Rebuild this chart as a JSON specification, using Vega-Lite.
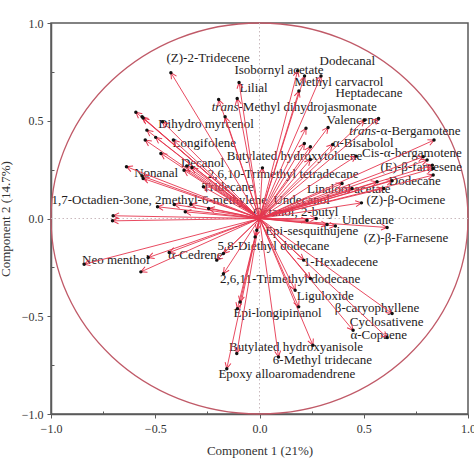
{
  "$schema": "https://vega.github.io/schema/vega-lite/v6.json",
  "width": 417,
  "height": 391,
  "autosize": "none",
  "padding": {"left": 51, "top": 23, "right": 6, "bottom": 60},
  "background": "white",
  "config": {
    "font": "Liberation Serif",
    "view": {"stroke": "#5a5a5a", "strokeWidth": 1.5},
    "axis": {
      "grid": false,
      "domainColor": "#5a5a5a",
      "domainWidth": 1.5,
      "tickColor": "#5a5a5a",
      "tickWidth": 1,
      "labelFont": "Liberation Serif",
      "labelFontSize": 12,
      "labelColor": "#333333",
      "labelFlush": false,
      "labelOverlap": false,
      "titleFont": "Liberation Serif",
      "titleFontSize": 13,
      "titleFontWeight": "normal",
      "titleColor": "#333333"
    }
  },
  "datasets": {
    "loadings": [
      {"x": -0.425, "y": 0.746}, {"x": -0.098, "y": 0.696}, {"x": -0.196, "y": 0.609}, {"x": -0.107, "y": 0.614},
      {"x": -0.165, "y": 0.52}, {"x": -0.593, "y": 0.544}, {"x": -0.563, "y": 0.52}, {"x": -0.558, "y": 0.514},
      {"x": -0.465, "y": 0.495}, {"x": -0.54, "y": 0.452}, {"x": -0.498, "y": 0.415}, {"x": -0.548, "y": 0.401},
      {"x": -0.413, "y": 0.401}, {"x": -0.473, "y": 0.333}, {"x": -0.349, "y": 0.268}, {"x": -0.324, "y": 0.261},
      {"x": -0.362, "y": 0.247}, {"x": -0.638, "y": 0.265}, {"x": -0.563, "y": 0.217}, {"x": -0.558, "y": 0.205},
      {"x": -0.269, "y": 0.162}, {"x": -0.489, "y": 0.06}, {"x": -0.409, "y": 0.072}, {"x": -0.356, "y": 0.034},
      {"x": -0.329, "y": 0.073}, {"x": -0.244, "y": 0.051}, {"x": -0.702, "y": 0.014}, {"x": -0.705, "y": -0.012},
      {"x": -0.841, "y": -0.234}, {"x": -0.569, "y": -0.273}, {"x": -0.534, "y": -0.2}, {"x": -0.433, "y": -0.174},
      {"x": -0.205, "y": -0.213}, {"x": -0.173, "y": -0.179}, {"x": -0.173, "y": -0.282}, {"x": -0.093, "y": -0.427},
      {"x": -0.106, "y": -0.461}, {"x": -0.109, "y": -0.691}, {"x": -0.157, "y": -0.768}, {"x": -0.021, "y": -0.094},
      {"x": -0.013, "y": -0.06},
      {"x": 0.091, "y": -0.708}, {"x": 0.256, "y": -0.648}, {"x": 0.188, "y": -0.452}, {"x": 0.171, "y": -0.367},
      {"x": 0.244, "y": -0.307}, {"x": 0.212, "y": -0.213}, {"x": 0.636, "y": -0.486}, {"x": 0.449, "y": -0.572},
      {"x": 0.612, "y": -0.609}, {"x": 0.228, "y": -0.009}, {"x": 0.272, "y": 0.0}, {"x": 0.324, "y": -0.031},
      {"x": 0.364, "y": -0.038}, {"x": 0.612, "y": -0.046},
      {"x": 0.489, "y": 0.08}, {"x": 0.396, "y": 0.179}, {"x": 0.444, "y": 0.154}, {"x": 0.564, "y": 0.188},
      {"x": 0.596, "y": 0.154}, {"x": 0.636, "y": 0.193}, {"x": 0.833, "y": 0.222}, {"x": 0.785, "y": 0.316},
      {"x": 0.804, "y": 0.299}, {"x": 0.829, "y": 0.273}, {"x": 0.832, "y": 0.256}, {"x": 0.837, "y": 0.401},
      {"x": 0.463, "y": 0.319}, {"x": 0.244, "y": 0.302}, {"x": 0.351, "y": 0.379}, {"x": 0.215, "y": 0.384},
      {"x": 0.244, "y": 0.367}, {"x": 0.223, "y": 0.462}, {"x": 0.329, "y": 0.466}, {"x": 0.503, "y": 0.503},
      {"x": 0.571, "y": 0.512}, {"x": 0.183, "y": 0.756}, {"x": 0.216, "y": 0.729}, {"x": 0.295, "y": 0.729},
      {"x": 0.189, "y": 0.652}, {"x": 0.014, "y": 0.259}
    ],
    "names": [
      {"pre": "", "label": "(Z)-2-Tridecene", "x": -0.446, "y": 0.819},
      {"pre": "", "label": "Isobornyl acetate", "x": -0.12, "y": 0.759},
      {"pre": "", "label": "Dodecanal", "x": 0.288, "y": 0.807},
      {"pre": "", "label": "Lilial", "x": -0.096, "y": 0.666},
      {"pre": "", "label": "Methyl carvacrol", "x": 0.167, "y": 0.696},
      {"pre": "", "label": "Heptadecane", "x": 0.364, "y": 0.64},
      {"pre": "trans-", "label": "Methyl dihydrojasmonate", "x": -0.08, "y": 0.572},
      {"pre": "", "label": "Valencene", "x": 0.321, "y": 0.503},
      {"pre": "", "label": "Dihydro myrcenol", "x": -0.486, "y": 0.481},
      {"pre": "trans-", "label": "α-Bergamotene", "x": 0.58, "y": 0.447},
      {"pre": "", "label": "Longifolene", "x": -0.417, "y": 0.387},
      {"pre": "", "label": "α-Bisabolol", "x": 0.351, "y": 0.387},
      {"pre": "", "label": "Butylated hydroxytoluene", "x": -0.157, "y": 0.321},
      {"pre": "", "label": "Cis-α-bergamotene", "x": 0.492, "y": 0.333},
      {"pre": "", "label": "Decanol", "x": -0.377, "y": 0.285},
      {"pre": "", "label": "(E)-β-farnesene", "x": 0.58, "y": 0.265},
      {"pre": "", "label": "Nonanal", "x": -0.601, "y": 0.235},
      {"pre": "", "label": "2,6,10-Trimethyl tetradecane", "x": -0.248, "y": 0.23},
      {"pre": "", "label": "Dodecane", "x": 0.62, "y": 0.193},
      {"pre": "", "label": "Tridecane", "x": -0.274, "y": 0.162},
      {"pre": "", "label": "Linalool acetate", "x": 0.228, "y": 0.15},
      {"pre": "", "label": "1,7-Octadien-3one, 2methyl-6-methylene", "x": -0.998, "y": 0.094},
      {"pre": "", "label": "Undecanol", "x": 0.067, "y": 0.094},
      {"pre": "", "label": "(Z)-β-Ocimene", "x": 0.513, "y": 0.094},
      {"pre": "", "label": "Octanol, 2-butyl", "x": -0.03, "y": 0.034},
      {"pre": "", "label": "Undecane", "x": 0.396, "y": -0.009},
      {"pre": "", "label": "Epi-sesquithujene", "x": 0.027, "y": -0.063},
      {"pre": "", "label": "(Z)-β-Farnesene", "x": 0.5, "y": -0.102},
      {"pre": "", "label": "5,8-Diethyl dodecane", "x": -0.202, "y": -0.14},
      {"pre": "", "label": "Neo menthol", "x": -0.851, "y": -0.21},
      {"pre": "", "label": "α-Cedrene", "x": -0.438, "y": -0.189},
      {"pre": "", "label": "1-Hexadecene", "x": 0.212, "y": -0.225},
      {"pre": "", "label": "2,6,11-Trimethyl dodecane", "x": -0.189, "y": -0.309},
      {"pre": "", "label": "Liguloxide", "x": 0.179, "y": -0.398},
      {"pre": "", "label": "β-caryophyllene", "x": 0.361, "y": -0.456},
      {"pre": "", "label": "Epi-longipinanol", "x": -0.125, "y": -0.481},
      {"pre": "", "label": "Cyclosativene", "x": 0.433, "y": -0.529},
      {"pre": "", "label": "α-Copaene", "x": 0.436, "y": -0.597},
      {"pre": "", "label": "Butylated hydroxyanisole", "x": -0.146, "y": -0.657},
      {"pre": "", "label": "6-Methyl tridecane", "x": 0.064, "y": -0.725},
      {"pre": "", "label": "Epoxy alloaromadendrene", "x": -0.197, "y": -0.794}
    ]
  },
  "layer": [
    {
      "data": {"values": [{"cx": 0, "cy": 0}]},
      "mark": {
        "type": "point",
        "shape": "M1,0C1,0.5178 0.5523,0.9376 0,0.9376C-0.5523,0.9376 -1,0.5178 -1,0C-1,-0.5178 -0.5523,-0.9376 0,-0.9376C0.5523,-0.9376 1,-0.5178 1,0Z",
        "size": 173889,
        "filled": false,
        "stroke": "#c05a68",
        "strokeWidth": 1.3,
        "opacity": 1
      },
      "encoding": {
        "x": {
          "field": "cx",
          "type": "quantitative",
          "scale": {"domain": [-1, 1], "nice": false, "zero": false},
          "axis": {
            "title": "Component 1 (21%)",
            "values": [-1, -0.75, -0.5, -0.25, 0, 0.25, 0.5, 0.75, 1],
            "labelExpr": "abs(datum.value * 2 - round(datum.value * 2)) > 0.01 ? '' : format(datum.value, '.1f')",
            "tickSize": {"condition": {"test": "abs(datum.value * 2 - round(datum.value * 2)) > 0.01", "value": -3}, "value": 4},
            "labelPadding": 5,
            "titleBaseline": "alphabetic",
            "titleY": 40
          }
        },
        "y": {
          "field": "cy",
          "type": "quantitative",
          "scale": {"domain": [-1, 1], "nice": false, "zero": false},
          "axis": {
            "title": "Component 2 (14.7%)",
            "values": [-1, -0.75, -0.5, -0.25, 0, 0.25, 0.5, 0.75, 1],
            "labelExpr": "abs(datum.value * 2 - round(datum.value * 2)) > 0.01 ? '' : format(datum.value, '.1f')",
            "tickSize": {"condition": {"test": "abs(datum.value * 2 - round(datum.value * 2)) > 0.01", "value": -3}, "value": 4},
            "labelPadding": 4,
            "titleBaseline": "alphabetic",
            "titleX": -42,
            "titleY": 195.5
          }
        }
      }
    },
    {
      "data": {"values": [{"cx": 0}]},
      "mark": {"type": "rule", "stroke": "#c9b9bd", "strokeWidth": 1, "strokeDash": [1.5, 2.5]},
      "encoding": {"x": {"field": "cx", "type": "quantitative"}}
    },
    {
      "data": {"values": [{"cy": 0}]},
      "mark": {"type": "rule", "stroke": "#c9b9bd", "strokeWidth": 1, "strokeDash": [1.5, 2.5]},
      "encoding": {"y": {"field": "cy", "type": "quantitative"}}
    },
    {
      "data": {"name": "names"},
      "mark": {"type": "text", "align": "left", "baseline": "middle", "fontSize": 13, "font": "Liberation Serif", "color": "#1e1a1b"},
      "encoding": {
        "x": {"field": "x", "type": "quantitative"},
        "y": {"field": "y", "type": "quantitative"},
        "text": {"field": "label", "type": "nominal"}
      }
    },
    {
      "data": {"name": "names"},
      "mark": {"type": "text", "align": "right", "baseline": "middle", "fontSize": 13, "font": "Liberation Serif", "fontStyle": "italic", "color": "#1e1a1b"},
      "encoding": {
        "x": {"field": "x", "type": "quantitative"},
        "y": {"field": "y", "type": "quantitative"},
        "text": {"field": "pre", "type": "nominal"}
      }
    },
    {
      "data": {"name": "loadings"},
      "mark": {"type": "rule", "stroke": "#e5364f", "strokeWidth": 1, "opacity": 0.9},
      "encoding": {
        "x": {"field": "x", "type": "quantitative"},
        "y": {"field": "y", "type": "quantitative"},
        "x2": {"datum": 0},
        "y2": {"datum": 0}
      }
    },
    {
      "data": {"name": "loadings"},
      "transform": [
        {"calculate": "atan2(208.5 * datum.x, 195.5 * datum.y) * 180 / PI", "as": "headAngle"}
      ],
      "mark": {"type": "point", "shape": "M-0.5,1L0,0L0.5,1", "size": 140, "filled": false, "stroke": "#e5364f", "strokeWidth": 1, "opacity": 1},
      "encoding": {
        "x": {"field": "x", "type": "quantitative"},
        "y": {"field": "y", "type": "quantitative"},
        "angle": {"field": "headAngle", "type": "quantitative", "scale": null}
      }
    },
    {
      "data": {"name": "loadings"},
      "mark": {"type": "point", "shape": "circle", "filled": true, "size": 12, "color": "#111111", "opacity": 1},
      "encoding": {
        "x": {"field": "x", "type": "quantitative"},
        "y": {"field": "y", "type": "quantitative"}
      }
    }
  ]
}
